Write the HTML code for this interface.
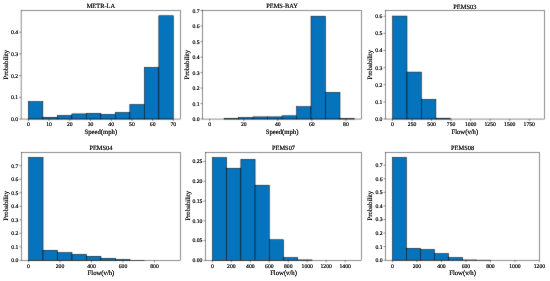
<!DOCTYPE html>
<html><head><meta charset="utf-8"><style>
html,body{margin:0;padding:0;background:#fff;}
body{width:550px;height:281px;overflow:hidden;}
svg{display:block;}
svg{text-rendering:geometricPrecision;}
text{font-family:"Liberation Serif","Times New Roman",serif;fill:#000;stroke:#000;stroke-width:0.18px;}
</style></head><body>
<svg width="550" height="281" viewBox="0 0 550 281">
<defs><filter id="bl" x="0" y="0" width="1" height="1" color-interpolation-filters="sRGB"><feConvolveMatrix order="3" kernelMatrix="0.015 0.075 0.015 0.075 0.64 0.075 0.015 0.075 0.015" edgeMode="duplicate" preserveAlpha="true"/></filter></defs>
<rect width="550" height="281" fill="#fff"/>
<g filter="url(#bl)">
<rect width="550" height="281" fill="#fff"/>
<g fill="#0574bd" stroke="#000" stroke-width="0.5"><rect x="28.35" y="101.57" width="14.5" height="17.48"/><rect x="42.85" y="117.27" width="14.5" height="1.78"/><rect x="57.35" y="115.4" width="14.5" height="3.65"/><rect x="71.85" y="113.9" width="14.5" height="5.15"/><rect x="86.35" y="113.3" width="14.5" height="5.75"/><rect x="100.85" y="114.38" width="14.5" height="4.67"/><rect x="115.35" y="112.43" width="14.5" height="6.62"/><rect x="129.85" y="104.5" width="14.5" height="14.55"/><rect x="144.35" y="67.38" width="14.5" height="51.67"/><rect x="158.85" y="15.77" width="14.5" height="103.28"/></g>
<rect x="21.1" y="10.6" width="159.5" height="108.45" fill="none" stroke="#000" stroke-width="0.45"/>
<path d="M28.35 119.05v1.9M49.06 119.05v1.9M69.78 119.05v1.9M90.49 119.05v1.9M111.21 119.05v1.9M131.92 119.05v1.9M152.64 119.05v1.9M173.35 119.05v1.9M21.1 119.05h-1.9M21.1 97.34h-1.9M21.1 75.63h-1.9M21.1 53.91h-1.9M21.1 32.2h-1.9" stroke="#000" stroke-width="0.45" fill="none"/>
<g fill="#0574bd" stroke="#000" stroke-width="0.5"><rect x="224.12" y="118.59" width="14.48" height="0.46"/><rect x="238.6" y="117.5" width="14.48" height="1.55"/><rect x="253.09" y="116.88" width="14.48" height="2.17"/><rect x="267.57" y="116.88" width="14.48" height="2.17"/><rect x="282.05" y="115.8" width="14.48" height="3.25"/><rect x="296.53" y="106.66" width="14.48" height="12.39"/><rect x="311.01" y="16.18" width="14.48" height="102.87"/><rect x="325.5" y="92.4" width="14.48" height="26.65"/><rect x="339.98" y="118.74" width="14.48" height="0.31"/></g>
<rect x="202.4" y="10.6" width="159.3" height="108.45" fill="none" stroke="#000" stroke-width="0.45"/>
<path d="M209.64 119.05v1.9M243.72 119.05v1.9M277.79 119.05v1.9M311.87 119.05v1.9M345.94 119.05v1.9M202.4 119.05h-1.9M202.4 103.56h-1.9M202.4 88.06h-1.9M202.4 72.57h-1.9M202.4 57.08h-1.9M202.4 41.59h-1.9M202.4 26.09h-1.9M202.4 10.6h-1.9" stroke="#000" stroke-width="0.45" fill="none"/>
<g fill="#0574bd" stroke="#000" stroke-width="0.5"><rect x="392.53" y="16.08" width="14.45" height="102.97"/><rect x="406.98" y="72.08" width="14.45" height="46.97"/><rect x="421.44" y="99.33" width="14.45" height="19.72"/><rect x="435.89" y="118.19" width="14.45" height="0.86"/></g>
<rect x="385.3" y="10.7" width="159" height="108.35" fill="none" stroke="#000" stroke-width="0.45"/>
<path d="M392.53 119.05v1.9M412.06 119.05v1.9M431.59 119.05v1.9M451.13 119.05v1.9M470.66 119.05v1.9M490.19 119.05v1.9M509.73 119.05v1.9M529.26 119.05v1.9M385.3 119.05h-1.9M385.3 101.91h-1.9M385.3 84.76h-1.9M385.3 67.62h-1.9M385.3 50.47h-1.9M385.3 33.33h-1.9M385.3 16.19h-1.9" stroke="#000" stroke-width="0.45" fill="none"/>
<g fill="#0574bd" stroke="#000" stroke-width="0.5"><rect x="28.54" y="157.41" width="14.48" height="102.99"/><rect x="43.02" y="250.25" width="14.48" height="10.15"/><rect x="57.5" y="252.55" width="14.48" height="7.85"/><rect x="71.99" y="254.31" width="14.48" height="6.09"/><rect x="86.47" y="256.27" width="14.48" height="4.13"/><rect x="100.95" y="258.26" width="14.48" height="2.14"/><rect x="115.43" y="259.43" width="14.48" height="0.97"/><rect x="129.91" y="260.28" width="14.48" height="0.12"/></g>
<rect x="21.3" y="152.4" width="159.3" height="108" fill="none" stroke="#000" stroke-width="0.45"/>
<path d="M28.54 260.4v1.9M60.02 260.4v1.9M91.51 260.4v1.9M122.99 260.4v1.9M154.47 260.4v1.9M21.3 260.4h-1.9M21.3 246.87h-1.9M21.3 233.33h-1.9M21.3 219.8h-1.9M21.3 206.26h-1.9M21.3 192.73h-1.9M21.3 179.2h-1.9M21.3 165.66h-1.9" stroke="#000" stroke-width="0.45" fill="none"/>
<g fill="#0574bd" stroke="#000" stroke-width="0.5"><rect x="212.41" y="157.54" width="14.22" height="102.76"/><rect x="226.63" y="168.21" width="14.22" height="92.09"/><rect x="240.86" y="159.32" width="14.22" height="100.98"/><rect x="255.08" y="185.2" width="14.22" height="75.1"/><rect x="269.3" y="239.75" width="14.22" height="20.55"/><rect x="283.52" y="257.53" width="14.22" height="2.77"/><rect x="297.75" y="259.9" width="14.22" height="0.4"/></g>
<rect x="205.3" y="152.4" width="156.45" height="107.9" fill="none" stroke="#000" stroke-width="0.45"/>
<path d="M212.41 260.3v1.9M231.38 260.3v1.9M250.34 260.3v1.9M269.3 260.3v1.9M288.27 260.3v1.9M307.23 260.3v1.9M326.19 260.3v1.9M345.16 260.3v1.9M205.3 260.3h-1.9M205.3 240.54h-1.9M205.3 220.78h-1.9M205.3 201.01h-1.9M205.3 181.25h-1.9M205.3 161.49h-1.9" stroke="#000" stroke-width="0.45" fill="none"/>
<g fill="#0574bd" stroke="#000" stroke-width="0.5"><rect x="392.41" y="157.39" width="14.03" height="102.81"/><rect x="406.44" y="248.26" width="14.03" height="11.94"/><rect x="420.47" y="249.48" width="14.03" height="10.72"/><rect x="434.5" y="253.55" width="14.03" height="6.65"/><rect x="448.52" y="257.53" width="14.03" height="2.67"/><rect x="462.55" y="259.96" width="14.03" height="0.24"/><rect x="476.58" y="260.16" width="14.03" height="0.04"/></g>
<rect x="385.4" y="152.3" width="154.3" height="107.9" fill="none" stroke="#000" stroke-width="0.45"/>
<path d="M392.41 260.2v1.9M416.92 260.2v1.9M441.42 260.2v1.9M465.92 260.2v1.9M490.42 260.2v1.9M514.92 260.2v1.9M539.42 260.2v1.9M385.4 260.2h-1.9M385.4 246.63h-1.9M385.4 233.06h-1.9M385.4 219.48h-1.9M385.4 205.91h-1.9M385.4 192.34h-1.9M385.4 178.77h-1.9M385.4 165.19h-1.9" stroke="#000" stroke-width="0.45" fill="none"/>
</g>
<g font-size="5.7"><text x="28.35" y="126.4" text-anchor="middle">0</text><text x="49.06" y="126.4" text-anchor="middle">10</text><text x="69.78" y="126.4" text-anchor="middle">20</text><text x="90.49" y="126.4" text-anchor="middle">30</text><text x="111.21" y="126.4" text-anchor="middle">40</text><text x="131.92" y="126.4" text-anchor="middle">50</text><text x="152.64" y="126.4" text-anchor="middle">60</text><text x="173.35" y="126.4" text-anchor="middle">70</text><text x="18.2" y="120.99" text-anchor="end">0.0</text><text x="18.2" y="99.28" text-anchor="end">0.1</text><text x="18.2" y="77.56" text-anchor="end">0.2</text><text x="18.2" y="55.85" text-anchor="end">0.3</text><text x="18.2" y="34.14" text-anchor="end">0.4</text></g>
<text x="100.85" y="8.45" text-anchor="middle" font-size="6.4">METR-LA</text>
<text x="100.85" y="133.55" text-anchor="middle" font-size="6.7">Speed(mph)</text>
<text transform="translate(8.1 64.67) rotate(-90)" text-anchor="middle" font-size="6.7">Probability</text>
<g font-size="5.7"><text x="209.64" y="126.4" text-anchor="middle">0</text><text x="243.72" y="126.4" text-anchor="middle">20</text><text x="277.79" y="126.4" text-anchor="middle">40</text><text x="311.87" y="126.4" text-anchor="middle">60</text><text x="345.94" y="126.4" text-anchor="middle">80</text><text x="199.5" y="120.99" text-anchor="end">0.0</text><text x="199.5" y="105.5" text-anchor="end">0.1</text><text x="199.5" y="90" text-anchor="end">0.2</text><text x="199.5" y="74.51" text-anchor="end">0.3</text><text x="199.5" y="59.02" text-anchor="end">0.4</text><text x="199.5" y="43.52" text-anchor="end">0.5</text><text x="199.5" y="28.03" text-anchor="end">0.6</text><text x="199.5" y="12.54" text-anchor="end">0.7</text></g>
<text x="282.05" y="8.45" text-anchor="middle" font-size="6.4">PEMS-BAY</text>
<text x="282.05" y="133.55" text-anchor="middle" font-size="6.7">Speed(mph)</text>
<text transform="translate(189.4 64.67) rotate(-90)" text-anchor="middle" font-size="6.7">Probability</text>
<g font-size="5.7"><text x="392.53" y="126.4" text-anchor="middle">0</text><text x="412.06" y="126.4" text-anchor="middle">250</text><text x="431.59" y="126.4" text-anchor="middle">500</text><text x="451.13" y="126.4" text-anchor="middle">750</text><text x="470.66" y="126.4" text-anchor="middle">1000</text><text x="490.19" y="126.4" text-anchor="middle">1250</text><text x="509.73" y="126.4" text-anchor="middle">1500</text><text x="529.26" y="126.4" text-anchor="middle">1750</text><text x="382.4" y="120.99" text-anchor="end">0.0</text><text x="382.4" y="103.84" text-anchor="end">0.1</text><text x="382.4" y="86.7" text-anchor="end">0.2</text><text x="382.4" y="69.56" text-anchor="end">0.3</text><text x="382.4" y="52.41" text-anchor="end">0.4</text><text x="382.4" y="35.27" text-anchor="end">0.5</text><text x="382.4" y="18.12" text-anchor="end">0.6</text></g>
<text x="464.8" y="8.55" text-anchor="middle" font-size="6.4">PEMS03</text>
<text x="464.8" y="133.55" text-anchor="middle" font-size="6.7">Flow(v/h)</text>
<text transform="translate(372.3 64.72) rotate(-90)" text-anchor="middle" font-size="6.7">Probability</text>
<g font-size="5.7"><text x="28.54" y="267.7" text-anchor="middle">0</text><text x="60.02" y="267.7" text-anchor="middle">200</text><text x="91.51" y="267.7" text-anchor="middle">400</text><text x="122.99" y="267.7" text-anchor="middle">600</text><text x="154.47" y="267.7" text-anchor="middle">800</text><text x="18.4" y="262.34" text-anchor="end">0.0</text><text x="18.4" y="248.8" text-anchor="end">0.1</text><text x="18.4" y="235.27" text-anchor="end">0.2</text><text x="18.4" y="221.74" text-anchor="end">0.3</text><text x="18.4" y="208.2" text-anchor="end">0.4</text><text x="18.4" y="194.67" text-anchor="end">0.5</text><text x="18.4" y="181.13" text-anchor="end">0.6</text><text x="18.4" y="167.6" text-anchor="end">0.7</text></g>
<text x="100.95" y="150.25" text-anchor="middle" font-size="6.4">PEMS04</text>
<text x="100.95" y="274.9" text-anchor="middle" font-size="6.7">Flow(v/h)</text>
<text transform="translate(8.3 205.8) rotate(-90)" text-anchor="middle" font-size="6.7">Probability</text>
<g font-size="5.7"><text x="212.41" y="267.6" text-anchor="middle">0</text><text x="231.38" y="267.6" text-anchor="middle">200</text><text x="250.34" y="267.6" text-anchor="middle">400</text><text x="269.3" y="267.6" text-anchor="middle">600</text><text x="288.27" y="267.6" text-anchor="middle">800</text><text x="307.23" y="267.6" text-anchor="middle">1000</text><text x="326.19" y="267.6" text-anchor="middle">1200</text><text x="345.16" y="267.6" text-anchor="middle">1400</text><text x="202.4" y="262.24" text-anchor="end">0.00</text><text x="202.4" y="242.48" text-anchor="end">0.05</text><text x="202.4" y="222.71" text-anchor="end">0.10</text><text x="202.4" y="202.95" text-anchor="end">0.15</text><text x="202.4" y="183.19" text-anchor="end">0.20</text><text x="202.4" y="163.43" text-anchor="end">0.25</text></g>
<text x="283.52" y="150.25" text-anchor="middle" font-size="6.4">PEMS07</text>
<text x="283.52" y="274.8" text-anchor="middle" font-size="6.7">Flow(v/h)</text>
<text transform="translate(189.6 205.75) rotate(-90)" text-anchor="middle" font-size="6.7">Probability</text>
<g font-size="5.7"><text x="392.41" y="267.5" text-anchor="middle">0</text><text x="416.92" y="267.5" text-anchor="middle">200</text><text x="441.42" y="267.5" text-anchor="middle">400</text><text x="465.92" y="267.5" text-anchor="middle">600</text><text x="490.42" y="267.5" text-anchor="middle">800</text><text x="514.92" y="267.5" text-anchor="middle">1000</text><text x="539.42" y="267.5" text-anchor="middle">1200</text><text x="382.5" y="262.14" text-anchor="end">0.0</text><text x="382.5" y="248.57" text-anchor="end">0.1</text><text x="382.5" y="234.99" text-anchor="end">0.2</text><text x="382.5" y="221.42" text-anchor="end">0.3</text><text x="382.5" y="207.85" text-anchor="end">0.4</text><text x="382.5" y="194.28" text-anchor="end">0.5</text><text x="382.5" y="180.7" text-anchor="end">0.6</text><text x="382.5" y="167.13" text-anchor="end">0.7</text></g>
<text x="462.55" y="150.15" text-anchor="middle" font-size="6.4">PEMS08</text>
<text x="462.55" y="274.7" text-anchor="middle" font-size="6.7">Flow(v/h)</text>
<text transform="translate(372.4 205.65) rotate(-90)" text-anchor="middle" font-size="6.7">Probability</text>
</svg>
</body></html>
